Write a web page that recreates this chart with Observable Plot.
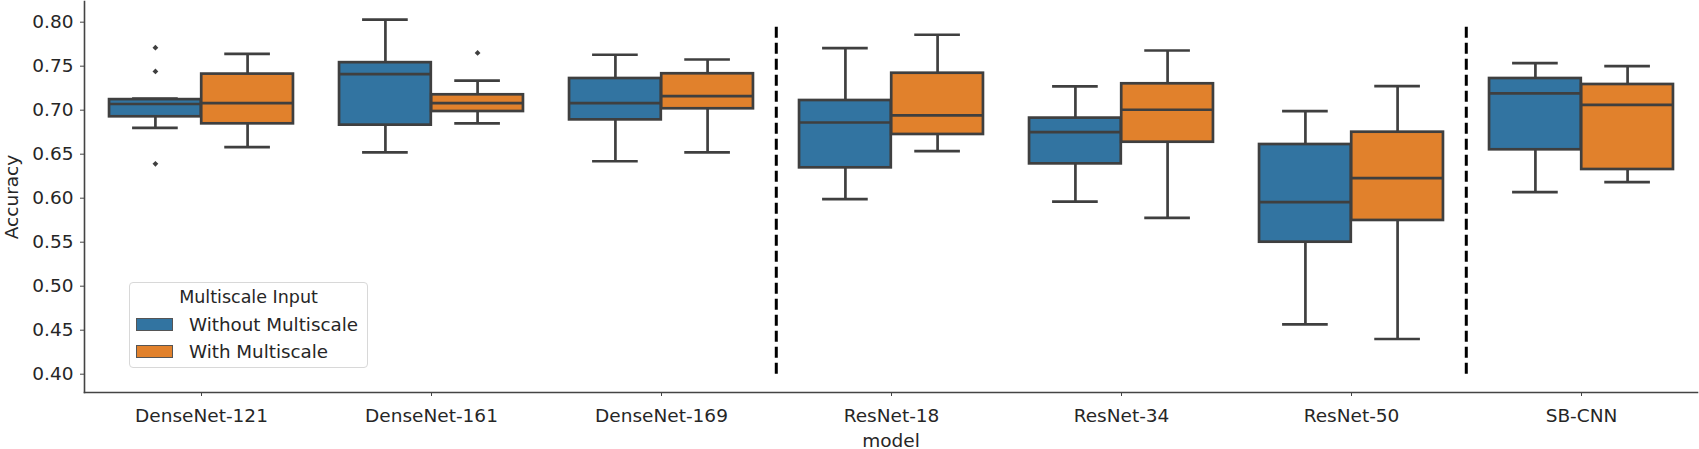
<!DOCTYPE html>
<html><head><meta charset="utf-8">
<script src="https://cdn.jsdelivr.net/npm/d3@7"></script>
<script src="https://cdn.jsdelivr.net/npm/@observablehq/plot@0.6"></script>
<style>
body{margin:0;background:#fff;font-family:"DejaVu Sans",sans-serif;color:#262626;}
#wrap{position:relative;width:1699px;height:449px;}
.legend{position:absolute;left:129px;top:282px;width:239px;height:86px;box-sizing:border-box;border:1px solid #d8d8d8;border-radius:4px;background:rgba(255,255,255,0.85);font-size:18.3px;}
.legend .title{position:absolute;left:0;right:0;top:4px;text-align:center;font-size:17.5px;}
.legend .row{position:absolute;left:6px;height:20px;display:flex;align-items:center;}
.legend .sw{width:37px;height:13px;box-sizing:border-box;border:1px solid #555;margin-right:16px;}
</style></head><body><div id="wrap"></div>
<script>
const models = ["DenseNet-121","DenseNet-161","DenseNet-169","ResNet-18","ResNet-34","ResNet-50","SB-CNN"];
const groups = ["Without Multiscale","With Multiscale"];
const colors = ["#3274a1","#e1812c"];
const yTicks = [0.40,0.45,0.50,0.55,0.60,0.65,0.70,0.75,0.80];

// Without Multiscale
const lowWithout  = [0.680, 0.652, 0.642, 0.599, 0.596, 0.4565, 0.607];
const q1Without   = [0.6925,0.683, 0.689, 0.6345,0.639, 0.550, 0.655];
const medWithout  = [0.707, 0.741, 0.708, 0.686, 0.675, 0.5955, 0.719];
const q3Without   = [0.712, 0.754, 0.736, 0.711, 0.691, 0.661, 0.736];
const highWithout = [0.7133,0.803, 0.763, 0.7705,0.727, 0.699, 0.7534];
// With Multiscale
const lowWith  = [0.658, 0.685, 0.652, 0.6534,0.5777,0.440, 0.6182];
const q1With   = [0.6845,0.6985,0.7016,0.6724,0.6636,0.5747,0.6326];
const medWith  = [0.708, 0.708, 0.716, 0.694, 0.7005,0.6227,0.7061];
const q3With   = [0.741, 0.7175,0.7414,0.742, 0.730, 0.675, 0.7292];
const highWith = [0.764, 0.7337,0.7576,0.7857,0.7678,0.7273,0.750];
// Outliers
const outlierModels = ["DenseNet-121","DenseNet-121","DenseNet-121","DenseNet-161"];
const outlierGroups = ["Without Multiscale","Without Multiscale","Without Multiscale","With Multiscale"];
const outlierValues = [0.771, 0.744, 0.639, 0.765];
// Group separators (dashed lines before these models)
const separatorsBefore = ["ResNet-18","SB-CNN"];

const stats = [
  {low: lowWithout, q1: q1Without, med: medWithout, q3: q3Without, high: highWithout},
  {low: lowWith, q1: q1With, med: medWith, q3: q3With, high: highWith}
];

const W = 1699, H = 449, mL = 84, mR = 2, mT = 1, mB = 57;
const step = (W - mL - mR) / models.length;
const boxW = 0.4 * step, pad = 0.1 * step;
const line = "#3f3f3f", lw = 2.7;

const marks = [];
groups.forEach((g, i) => {
  const s = stats[i];
  const rows = models.map((m, j) => ({model: m, low: s.low[j], q1: s.q1[j], med: s.med[j], q3: s.q3[j], high: s.high[j]}));
  const inL = i === 0 ? pad : step / 2;
  const inR = i === 0 ? step / 2 : pad;
  const dx = i === 0 ? -boxW / 2 : boxW / 2;
  const common = {x: "model", stroke: line, strokeWidth: lw};
  marks.push(
    Plot.ruleX(rows, {...common, y1: "low", y2: "q1", dx}),
    Plot.ruleX(rows, {...common, y1: "q3", y2: "high", dx}),
    Plot.tickY(rows, {...common, y: "low", insetLeft: inL + boxW / 4, insetRight: inR + boxW / 4}),
    Plot.tickY(rows, {...common, y: "high", insetLeft: inL + boxW / 4, insetRight: inR + boxW / 4}),
    Plot.barY(rows, {...common, y1: "q1", y2: "q3", fill: colors[i], insetLeft: inL, insetRight: inR}),
    Plot.tickY(rows, {...common, y: "med", insetLeft: inL, insetRight: inR}),
    Plot.dot(outlierValues.map((v, k) => ({model: outlierModels[k], group: outlierGroups[k], v})).filter(d => d.group === g),
      {x: "model", y: "v", dx, symbol: "diamond2", r: 2.6, fill: line, stroke: "none"})
  );
});

const plot = Plot.plot({
  width: W, height: H,
  marginLeft: mL, marginRight: mR, marginTop: mT, marginBottom: mB,
  style: {fontFamily: "DejaVu Sans, sans-serif", fontSize: "18.5px", color: "#262626", background: "#fff"},
  x: {type: "band", domain: models, padding: 0, label: null},
  y: {domain: [0.3792, 0.8235], label: null},
  marks: [
    ...marks,
    Plot.ruleX(separatorsBefore, {x: d => d, dx: -step / 2, y1: 0.40, y2: 0.80, stroke: "#000", strokeWidth: 3, strokeDasharray: "11,5"}),
    Plot.frame({anchor: "left", stroke: "#444", strokeWidth: 1.6}),
    Plot.frame({anchor: "bottom", stroke: "#444", strokeWidth: 1.6}),
    Plot.axisY({ticks: yTicks, tickFormat: d3.format(".2f"), tickSize: 4, tickPadding: 7, fontSize: 18.5, stroke: "#444",
      label: "Accuracy", labelAnchor: "center", labelArrow: false, labelOffset: 80}),
    Plot.axisX({tickSize: 4, tickPadding: 12, fontSize: 18.5, stroke: "#444",
      label: "model", labelAnchor: "center", labelArrow: false, labelOffset: 54})
  ]
});

const wrap = document.getElementById("wrap");
wrap.appendChild(plot);
const lg = document.createElement("div");
lg.className = "legend";
lg.innerHTML = `<div class="title">Multiscale Input</div>` +
  groups.map((g, i) => `<div class="row" style="top:${31 + i * 27}px"><span class="sw" style="background:${colors[i]}"></span><span>${g}</span></div>`).join("");
wrap.appendChild(lg);
</script></body></html>
